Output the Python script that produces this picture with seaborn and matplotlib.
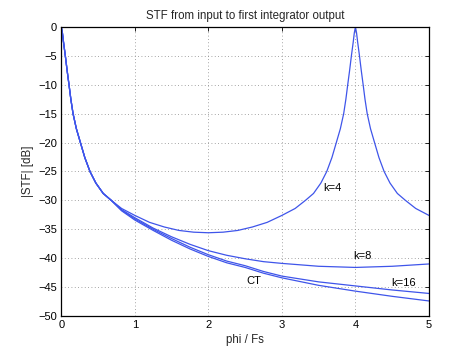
import matplotlib
matplotlib.use("Agg")
import matplotlib.pyplot as plt
import numpy as np
import pandas as pd
import seaborn as sns

# values
phi_k4 = [0, 0.015, 0.03, 0.055, 0.08, 0.105, 0.13, 0.16, 0.205, 0.26, 0.32, 0.39, 0.47,
          0.57, 0.68, 0.82, 1.0, 1.2, 1.4, 1.6, 1.8, 2.0, 2.2, 2.4, 2.6, 2.8, 3.0,
          3.18, 3.32, 3.43, 3.53, 3.61, 3.68, 3.74, 3.795, 3.84, 3.87, 3.895, 3.92,
          3.945, 3.97, 3.985, 4.0, 4.015, 4.03, 4.055, 4.08, 4.105, 4.13, 4.16, 4.205,
          4.26, 4.32, 4.39, 4.47, 4.57, 4.68, 4.82, 5.0]
stf_k4 = [0, -1.0, -2.6, -5.0, -7.6, -10.0, -12.5, -15.0, -17.6, -20.0, -22.6, -25.0, -27.0,
          -28.8, -30.0, -31.4, -32.6, -33.8, -34.6, -35.2, -35.5, -35.6, -35.5, -35.2, -34.6, -33.8, -32.6,
          -31.4, -30.0, -28.8, -27.0, -25.0, -22.6, -20.0, -17.6, -15.0, -12.5, -10.0, -7.6,
          -5.0, -2.6, -1.0, 0, -1.0, -2.6, -5.0, -7.6, -10.0, -12.5, -15.0, -17.6,
          -20.0, -22.6, -25.0, -27.0, -28.8, -30.0, -31.4, -32.6]

phi = [0, 0.015, 0.03, 0.055, 0.08, 0.105, 0.13, 0.16, 0.205, 0.26, 0.32, 0.39, 0.47,
       0.57, 0.68, 0.82, 1.0, 1.25, 1.5, 1.75, 2.0, 2.25, 2.5, 2.75, 3.0, 3.5, 4.0, 4.5, 5.0]
stf_k8 = [0, -1.0, -2.6, -5.0, -7.6, -10.0, -12.5, -15.0, -17.6, -20.0, -22.6, -25.0, -27.0,
          -28.8, -30.0, -31.6, -33.0, -34.8, -36.3, -37.6, -38.7, -39.5, -40.1, -40.6, -40.9,
          -41.4, -41.6, -41.4, -41.0]
stf_k16 = [0, -1.0, -2.6, -5.0, -7.6, -10.0, -12.5, -15.0, -17.6, -20.0, -22.6, -25.0, -27.0,
           -28.8, -30.0, -31.7, -33.2, -35.0, -36.6, -38.1, -39.4, -40.5, -41.3, -42.3, -43.1,
           -44.1, -44.8, -45.5, -46.1]
stf_ct = [0, -1.0, -2.6, -5.0, -7.6, -10.0, -12.5, -15.0, -17.6, -20.0, -22.6, -25.0, -27.0,
          -28.8, -30.0, -31.8, -33.4, -35.2, -36.9, -38.4, -39.7, -40.8, -41.6, -42.6, -43.4,
          -44.7, -45.7, -46.6, -47.4]

labels = ["k=4", "k=8", "k=16", "CT"]
label_x = [3.69, 4.09, 4.66, 2.62]
label_y = [-27.8, -39.6, -44.3, -43.9]

sns.set_style("white")
plt.rcParams["font.family"] = ["Liberation Sans", "DejaVu Sans"]
plt.rcParams["font.size"] = 8

fig = plt.figure(figsize=(4.74, 3.55), dpi=100)
ax = fig.add_axes([0.1293, 0.1099, 0.7757, 0.8141])

line_color = "#3f55ea"
for xs, ys in [(phi_k4, stf_k4), (phi, stf_k8), (phi, stf_k16), (phi, stf_ct)]:
    sns.lineplot(x=xs, y=ys, ax=ax, color=line_color, linewidth=0.9, estimator=None, sort=False)

for lab, lx, ly in zip(labels, label_x, label_y):
    ax.text(lx, ly, lab, ha="center", va="center", fontsize=8, color="black")

ax.set_xlim(0, 5)
ax.set_ylim(-50, 0)
ax.set_xticks(range(0, 6))
ax.set_yticks(range(-50, 1, 5))
ax.grid(True, linestyle=(0, (1, 3)), color="#888888", linewidth=0.6)
ax.tick_params(direction="in", top=True, right=True, length=3, width=0.6, labelsize=8,
               colors="black", pad=3)
for sp in ax.spines.values():
    sp.set_color("black")
    sp.set_linewidth(0.9)

ax.set_title("STF from input to first integrator output", fontsize=8.3, pad=6)
ax.set_xlabel("phi / Fs", fontsize=8.3, labelpad=3)
ax.set_ylabel("|STF| [dB]", fontsize=8.3, labelpad=3)

fig.savefig("out.png", dpi=100)
